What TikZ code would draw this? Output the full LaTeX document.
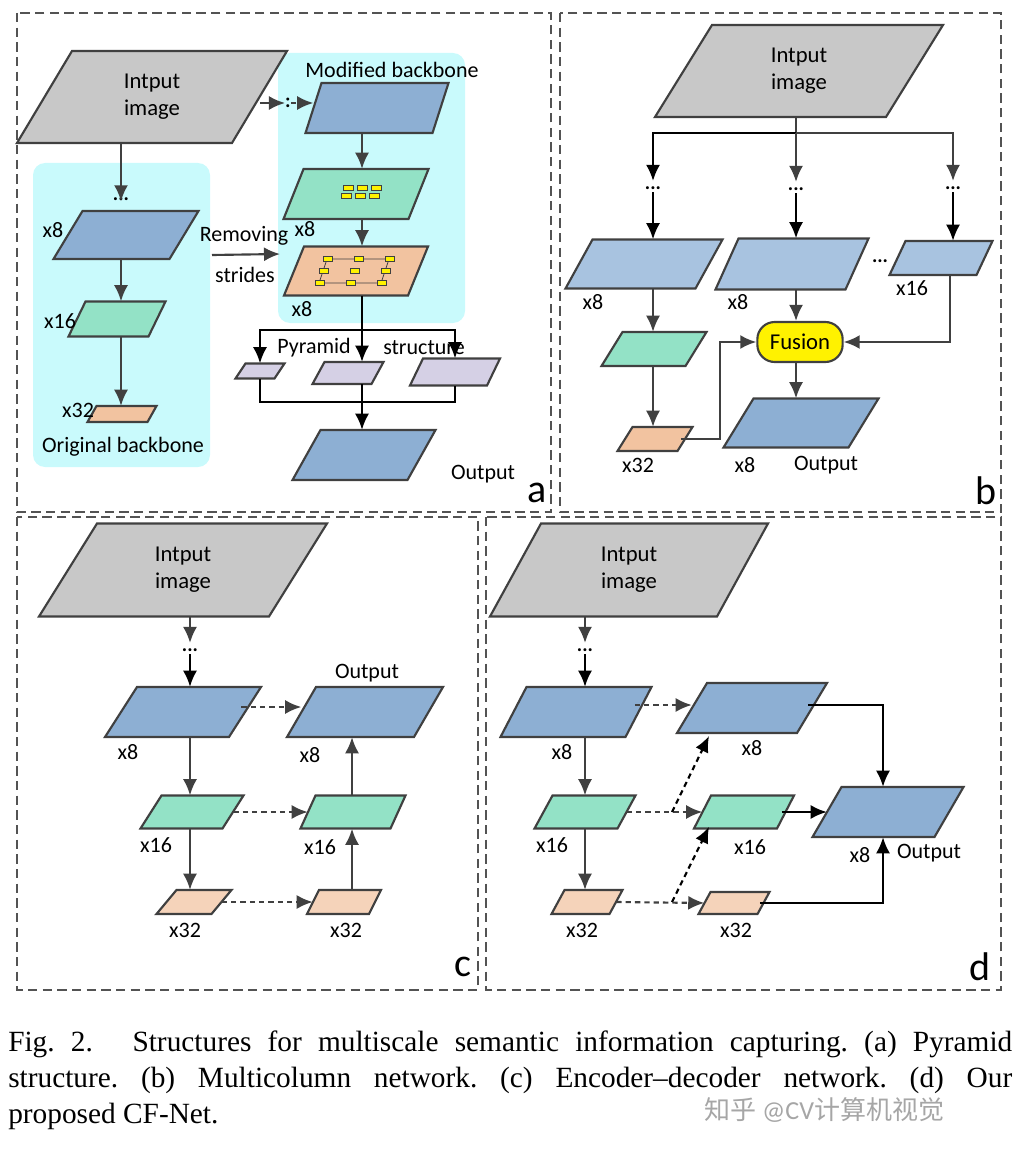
\documentclass[tikz,border=0pt]{standalone}
\usepackage{fontspec}
\setmainfont{Carlito}
\newfontfamily\capfont{Liberation Serif}
\newfontfamily\cjk{Noto Sans CJK SC}
\usetikzlibrary{arrows.meta}

\definecolor{cgray}{HTML}{C8C8C8}
\definecolor{cblue}{HTML}{8DAFD3}
\definecolor{clblue}{HTML}{A8C3E0}
\definecolor{cgreen}{HTML}{93E2C6}
\definecolor{corange}{HTML}{F2C3A0}
\definecolor{cpeach}{HTML}{F5D3BA}
\definecolor{clav}{HTML}{D5D0E5}
\definecolor{ccyan}{HTML}{C9FAFC}
\definecolor{cline}{HTML}{404040}

\tikzset{
  plate/.style={draw=cline,line width=1.6pt,line join=miter},
  lbl/.style={inner sep=0pt,font=\fontsize{16.5}{19}\selectfont},
  tag/.style={inner sep=0pt,font=\fontsize{30}{32}\selectfont},
  arr/.style={draw=cline,line width=1.6pt,-{Latex[length=12pt,width=10.5pt]}},
  barr/.style={draw=black,line width=1.6pt,-{Latex[length=12pt,width=10.5pt]}},
  darr/.style={arr,dash pattern=on 4pt off 3pt},
  frame/.style={draw=cline!90,line width=1pt,dash pattern=on 7pt off 4pt},
  backbone/.style={fill=ccyan,rounded corners=9pt},
  dots/.style={inner sep=0pt,font=\bfseries\fontsize{15}{15}\selectfont}
}

% name, cx, cy, width, height, skew, colour, text
\newcommand\plate[8]{%
  \filldraw[plate,fill=#7] (#2-#4/2-#6/2,#3+#5/2) -- ++(#4,0) -- ++(#6,-#5) -- ++(-#4,0) -- cycle;
  \node[inner sep=0pt,minimum width=#4*0.75pt,minimum height=#5*0.75pt,align=center,
        font=\fontsize{17}{20}\selectfont] (#1) at (#2,#3) {#8};}

\begin{document}
\begin{tikzpicture}[x=0.75pt,y=-0.75pt]
\useasboundingbox (0,0) rectangle (1019,1152);

% frames
\draw[frame] (17,13) rectangle (551,512);
\draw[frame] (560,13) rectangle (1001,512);
\draw[frame] (17,517) rectangle (478,990);
\draw[frame] (486,517) rectangle (1001,990);

% (a) pyramid structure
\fill[backbone] (33,163) rectangle (210,467);
\fill[backbone] (278,53) rectangle (465,323);
\plate{inA}{152}{97}{215}{92}{55}{cgray}{Intput\\image}
\node[dots] (dotsA) at (121,199) {...};
\plate{a8}{126}{235}{116}{48}{29}{cblue}{}
\plate{a16}{117}{319}{80}{35}{17}{cgreen}{}
\plate{a32}{122}{414}{60}{16}{9}{corange}{}
\node[lbl] (a8l) at (53,230) {x8};
\node[lbl] (a16l) at (60,321) {x16};
\node[lbl] (a32l) at (78,410) {x32};
\node[lbl] (orig) at (123,447) {Original backbone};
\draw[arr] (dotsA |- inA.south) -- ([yshift=-3pt]dotsA.north);
\draw[arr] (dotsA |- a8.south) -- (dotsA |- a16.north);
\draw[arr] (dotsA |- a16.south) -- (dotsA |- a32.north);

\node[lbl] (modi) at (392,70) {Modified backbone};
\plate{m1}{377}{108}{127}{50}{16}{cblue}{}
\plate{m2}{356}{194}{125}{50}{20}{cgreen}{}
\plate{m3}{356}{271}{124}{49}{20}{corange}{}
\foreach \x in {0,1,2} \foreach \y/\s in {0/0,1/-2}
  \filldraw[draw=cline,fill=yellow,line width=0.4pt] (343+\x*14+\s,185+\y*8) rectangle ++(10,5);
\draw[cline,line width=0.6pt] (327,259) -- (389,259) -- (381,283) -- (319,283) -- cycle;
\foreach \x/\y in {327/259,358/259,389/259,323/271,354/271,385/271,319/283,350/283,381/283}
  \filldraw[draw=cline,fill=yellow,line width=0.4pt] (\x-4,\y-2.5) rectangle ++(9,5);
\node[lbl] (m2l) at (305,229) {x8};
\node[lbl] (m3l) at (302,309) {x8};
\node[dots] (colA) at (288,103) {:};
\draw[arr] (inA.east |- colA) -- (colA.west);
\draw[darr] (colA.east) -- (colA.east -| m1.west);
\coordinate (colM) at (362,0);
\draw[arr] (colM |- m1.south) -- (colM |- m2.north);
\draw[arr] (colM |- m2.south) -- (colM |- m3.north);
\node[lbl] (rmv) at (244,236) {Removing};
\node[lbl] (strd) at (245,275) {strides};
\coordinate (rsW) at (212,255);
\coordinate (rsE) at (280,254);
\draw[arr] (rsW) -- (rsE);

\plate{p1}{260}{371}{39}{15}{10}{clav}{}
\plate{p2}{348}{373}{59}{22}{12}{clav}{}
\plate{p3}{455}{372}{77}{27}{13}{clav}{}
\plate{outA}{364}{455}{115}{50}{28}{cblue}{}
\coordinate (brT) at (362,330);
\coordinate (brB) at (362,402);
\draw[barr] (colM |- m3.south) -- (colM |- p2.north);
\draw[barr] (brT) -| (p1.north);
\draw[barr] (brT) -| (p3.north);
\draw[black,line width=1.6pt] (p1.south) |- (brB) -| (p3.south);
\draw[barr] (colM |- p2.south) -- (colM |- outA.north);
\node[lbl,fill=white,inner xsep=1pt] (pyr1) at (314,348) {Pyramid};
\node[lbl] (pyr2) at (424,348) {structure};
\node[lbl] (outAl) at (483,474) {Output};
\node[tag] (tagA) at (537,493) {a};

% (b) multicolumn network
\plate{inB}{799}{71}{231}{92}{57}{cgray}{Intput\\image}
\plate{b1}{644}{264}{130}{49}{27}{clblue}{}
\plate{b2}{792}{264}{130}{51}{23}{clblue}{}
\plate{b3}{941}{258}{87}{34}{16}{clblue}{}
\node[dots] (bd1) at (653,188) {...};
\node[dots] (bd2) at (796,189) {...};
\node[dots] (bd3) at (953,188) {...};
\node[dots] (bd4) at (880,261) {...};
\coordinate (brBT) at (796,133);
\draw[cline,line width=1.6pt] (brBT |- inB.south) -- (brBT);
\draw[barr] (brBT) -| ([yshift=4pt]bd1.north);
\draw[arr] (brBT) -- ([yshift=4pt]bd2.north);
\draw[arr] (brBT) -| ([yshift=4pt]bd3.north);
\draw[barr] ([yshift=-2pt]bd1.south) -- (bd1 |- b1.north);
\draw[barr] ([yshift=-2pt]bd2.south) -- (bd2 |- b2.north);
\draw[barr] ([yshift=-2pt]bd3.south) -- (bd3 |- b3.north);
\plate{bg}{654}{349}{84}{34}{21}{cgreen}{}
\plate{bo}{655}{439}{60}{24}{15}{corange}{}
\plate{outB}{801}{423}{125}{49}{30}{cblue}{}
\node[draw=cline,line width=1.6pt,fill=yellow,rounded corners=13pt,minimum width=64pt,
      minimum height=30pt,font=\fontsize{17}{20}\selectfont] (fus) at (800,342) {Fusion};
\draw[arr] (bd1 |- b1.south) -- (bd1 |- bg.north);
\draw[arr] (bd1 |- bg.south) -- (bd1 |- bo.north);
\draw[arr] (bd2 |- b2.south) -- (bd2 |- fus.north);
\draw[arr] (bd2 |- fus.south) -- (bd2 |- outB.north);
\coordinate (bj1) at (720,342);
\coordinate (bj2) at (950,342);
\draw[arr] ([xshift=-3pt]bo.east) -| (bj1) -- (fus.west);
\draw[arr] (bj2 |- b3.south) -- (bj2) -- (fus.east);
\node[lbl] (b1l) at (593,302) {x8};
\node[lbl] (b2l) at (738,302) {x8};
\node[lbl] (b3l) at (912,288) {x16};
\node[lbl] (bol) at (638,465) {x32};
\node[lbl] (outBl1) at (745,465) {x8};
\node[lbl] (outBl2) at (826,465) {Output};
\node[tag] (tagB) at (986,491) {b};

% (c) encoder-decoder network
\plate{inC}{183}{570}{230}{93}{58}{cgray}{Intput\\image}
\node[dots] (cd) at (190,650) {...};
\plate{c1}{183}{712}{124}{50}{32}{cblue}{}
\plate{c2}{365}{712}{127}{50}{29}{cblue}{}
\plate{c3}{192}{812}{82}{33}{21}{cgreen}{}
\plate{c4}{353}{812}{90}{33}{15}{cgreen}{}
\plate{c5}{194}{902}{55}{24}{20}{cpeach}{}
\plate{c6}{344}{902}{62}{24}{12}{cpeach}{}
\draw[arr] (cd |- inC.south) -- ([yshift=4pt]cd.north);
\draw[barr] ([yshift=-2pt]cd.south) -- (cd |- c1.north);
\draw[arr] (cd |- c1.south) -- (cd |- c3.north);
\draw[arr] (cd |- c3.south) -- (cd |- c5.north);
\coordinate (cu) at (352,0);
\draw[arr] (cu |- c6.north) -- (cu |- c4.south);
\draw[arr] (cu |- c4.north) -- (cu |- c2.south);
\draw[darr] ([xshift=-3pt]c1.east |- 0,707) -- (c2.west |- 0,707);
\draw[darr] (c3.east) -- (c4.west);
\draw[darr] (c5.east) -- (c6.west);
\node[lbl] (c2t) at (367,673) {Output};
\node[lbl] (c1l) at (128,752) {x8};
\node[lbl] (c2l) at (310,755) {x8};
\node[lbl] (c3l) at (156,845) {x16};
\node[lbl] (c4l) at (320,847) {x16};
\node[lbl] (c5l) at (185,930) {x32};
\node[lbl] (c6l) at (346,930) {x32};
\node[tag] (tagC) at (463,967) {c};

% (d) CF-Net
\plate{inD}{629}{570}{227}{93}{51}{cgray}{Intput\\image}
\node[dots] (dd) at (585,650) {...};
\plate{d1}{576}{712}{125}{50}{26}{cblue}{}
\plate{d2}{752}{708}{120}{50}{30}{cblue}{}
\plate{d3}{585}{812}{83}{33}{18}{cgreen}{}
\plate{d4}{744}{812}{83}{33}{17}{cgreen}{}
\plate{d5}{587}{902}{58}{24}{13}{cpeach}{}
\plate{d6}{734}{903}{59}{22}{12}{cpeach}{}
\plate{d7}{888}{812}{122}{50}{29}{cblue}{}
\draw[arr] (dd |- inD.south) -- ([yshift=4pt]dd.north);
\draw[barr] ([yshift=-2pt]dd.south) -- (dd |- d1.north);
\draw[arr] (dd |- d1.south) -- (dd |- d3.north);
\draw[arr] (dd |- d3.south) -- (dd |- d5.north);
\draw[darr] ([xshift=-3pt]d1.east |- 0,705) -- (d2.west |- 0,705);
\coordinate (dj1) at (672,812);
\coordinate (dj2) at (672,902);
\coordinate (dt1) at (709,736);
\coordinate (dt2) at (709,827);
\draw[darr] (d3.east) -- (d4.west);
\draw[darr] (d5.east) -- (d6.west);
\draw[barr,dash pattern=on 4pt off 3pt] (dj1) -- (dt1);
\draw[barr,dash pattern=on 4pt off 3pt] (dj2) -- (dt2);
\coordinate (dx) at (883,0);
\draw[barr] ([xshift=-3pt]d2.east |- 0,705) -| (dx |- d7.north);
\draw[barr] ([xshift=-3pt]d4.east) -- (d7.west);
\draw[barr] ([xshift=-3pt]d6.east) -| (dx |- d7.south);
\node[lbl] (d1l) at (562,752) {x8};
\node[lbl] (d2l) at (752,748) {x8};
\node[lbl] (d3l) at (552,845) {x16};
\node[lbl] (d4l) at (750,847) {x16};
\node[lbl] (d5l) at (582,930) {x32};
\node[lbl] (d6l) at (736,930) {x32};
\node[lbl] (d7l1) at (860,855) {x8};
\node[lbl] (d7l2) at (929,853) {Output};
\node[tag] (tagD) at (980,967) {d};

% caption
\node[anchor=north west,inner sep=0pt,align=left,font=\capfont\fontsize{22}{27}\selectfont\frenchspacing]
  (cap) at (8,1031) {%
  \makebox[753pt][s]{Fig. 2.\hspace{0.8em} Structures for multiscale semantic information capturing. (a) Pyramid}\\
  \makebox[753pt][s]{structure. (b) Multicolumn network. (c) Encoder–decoder network. (d) Our}\\
  proposed CF-Net.};
\node[anchor=west,inner sep=0pt,text=black!35,font=\fontsize{19.5}{22}\selectfont] (wm) at (704,1110)
  {{\cjk 知乎} @CV{\cjk 计算机视觉}};
\end{tikzpicture}
\end{document}
